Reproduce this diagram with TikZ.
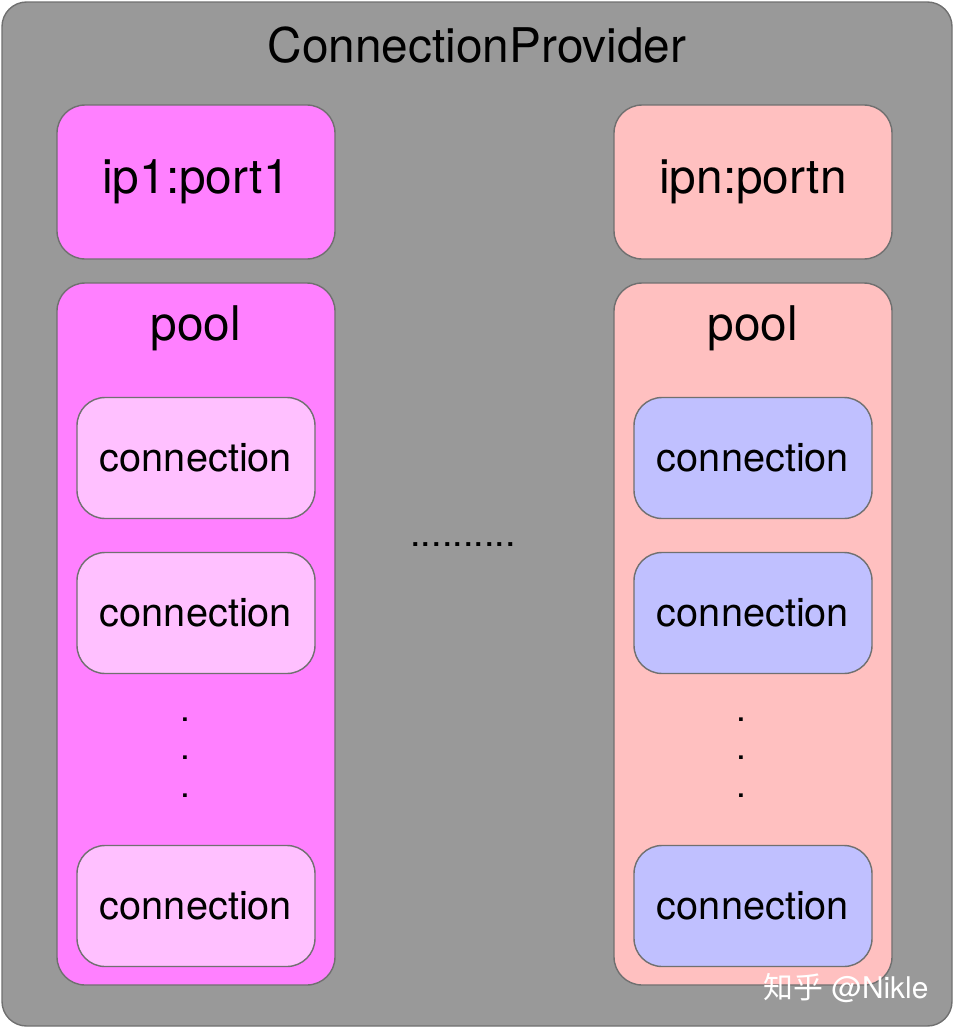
\documentclass[tikz,border=0pt]{standalone}
\usepackage{fontspec}
\setmainfont{TeX Gyre Heros}
\newfontfamily\cjk{Noto Sans CJK SC}
\usetikzlibrary{positioning}
\definecolor{frame}{HTML}{999999}
\definecolor{edge}{HTML}{707070}
\definecolor{hostA}{HTML}{FF80FF}
\definecolor{connA}{HTML}{FFC0FF}
\definecolor{hostB}{HTML}{FFC0C0}
\definecolor{connB}{HTML}{C0C0FF}
\tikzset{
  box/.style={draw=edge, line width=0.8pt, rounded corners=16pt, inner sep=0pt},
  big/.style={font=\fontsize{27.2}{32}\selectfont},
  host/.style={box, big, minimum width=278*0.02cm, minimum height=154*0.02cm},
  pool/.style={box, minimum width=278*0.02cm, minimum height=702*0.02cm},
  conn/.style={box, minimum width=238*0.02cm, minimum height=121*0.02cm, font=\fontsize{22.6}{27}\selectfont},
  vdots/.style={font=\fontsize{20}{24}\selectfont}
}
\begin{document}
\begin{tikzpicture}[x=0.02cm, y=-0.02cm]
  \useasboundingbox (0,0) rectangle (954,1028);
  \node[box, fill=frame, rounded corners=14pt, minimum width=950*0.02cm, minimum height=1024*0.02cm] (provider) at (477,514) {};
  \node[big] (title) at (477,45) {ConnectionProvider};
  % left host
  \node[host, fill=hostA] (hostA) at (196,182) {ip1:port1};
  \node[pool, fill=hostA] (poolA) at (196,634) {};
  \node[big] (poolAlabel) at (196,328) {pool};
  \node[conn, fill=connA] (connA1) at (196,458) {connection};
  \node[conn, fill=connA] (connA2) at (196,613) {connection};
  \node[conn, fill=connA] (connA3) at (196,906) {connection};
  \foreach \y/\n in {720/1,758/2,796/3}
    \node[vdots] (dotA\n) at (185,\y) {.};
  % right host
  \node[host, fill=hostB] (hostB) at (753,182) {ipn:portn};
  \node[pool, fill=hostB] (poolB) at (753,634) {};
  \node[big] (poolBlabel) at (753,328) {pool};
  \node[conn, fill=connB] (connB1) at (753,458) {connection};
  \node[conn, fill=connB] (connB2) at (753,613) {connection};
  \node[conn, fill=connB] (connB3) at (753,906) {connection};
  \foreach \y/\n in {720/1,758/2,796/3}
    \node[vdots] (dotB\n) at (741,\y) {.};
  \node[font=\fontsize{21.5}{26}\selectfont] (gap) at (463,545) {..........};
  \node[text=white, font=\fontsize{17}{20}\selectfont] (mark) at (846,988) {{\cjk 知乎} @Nikle};
\end{tikzpicture}
\end{document}
